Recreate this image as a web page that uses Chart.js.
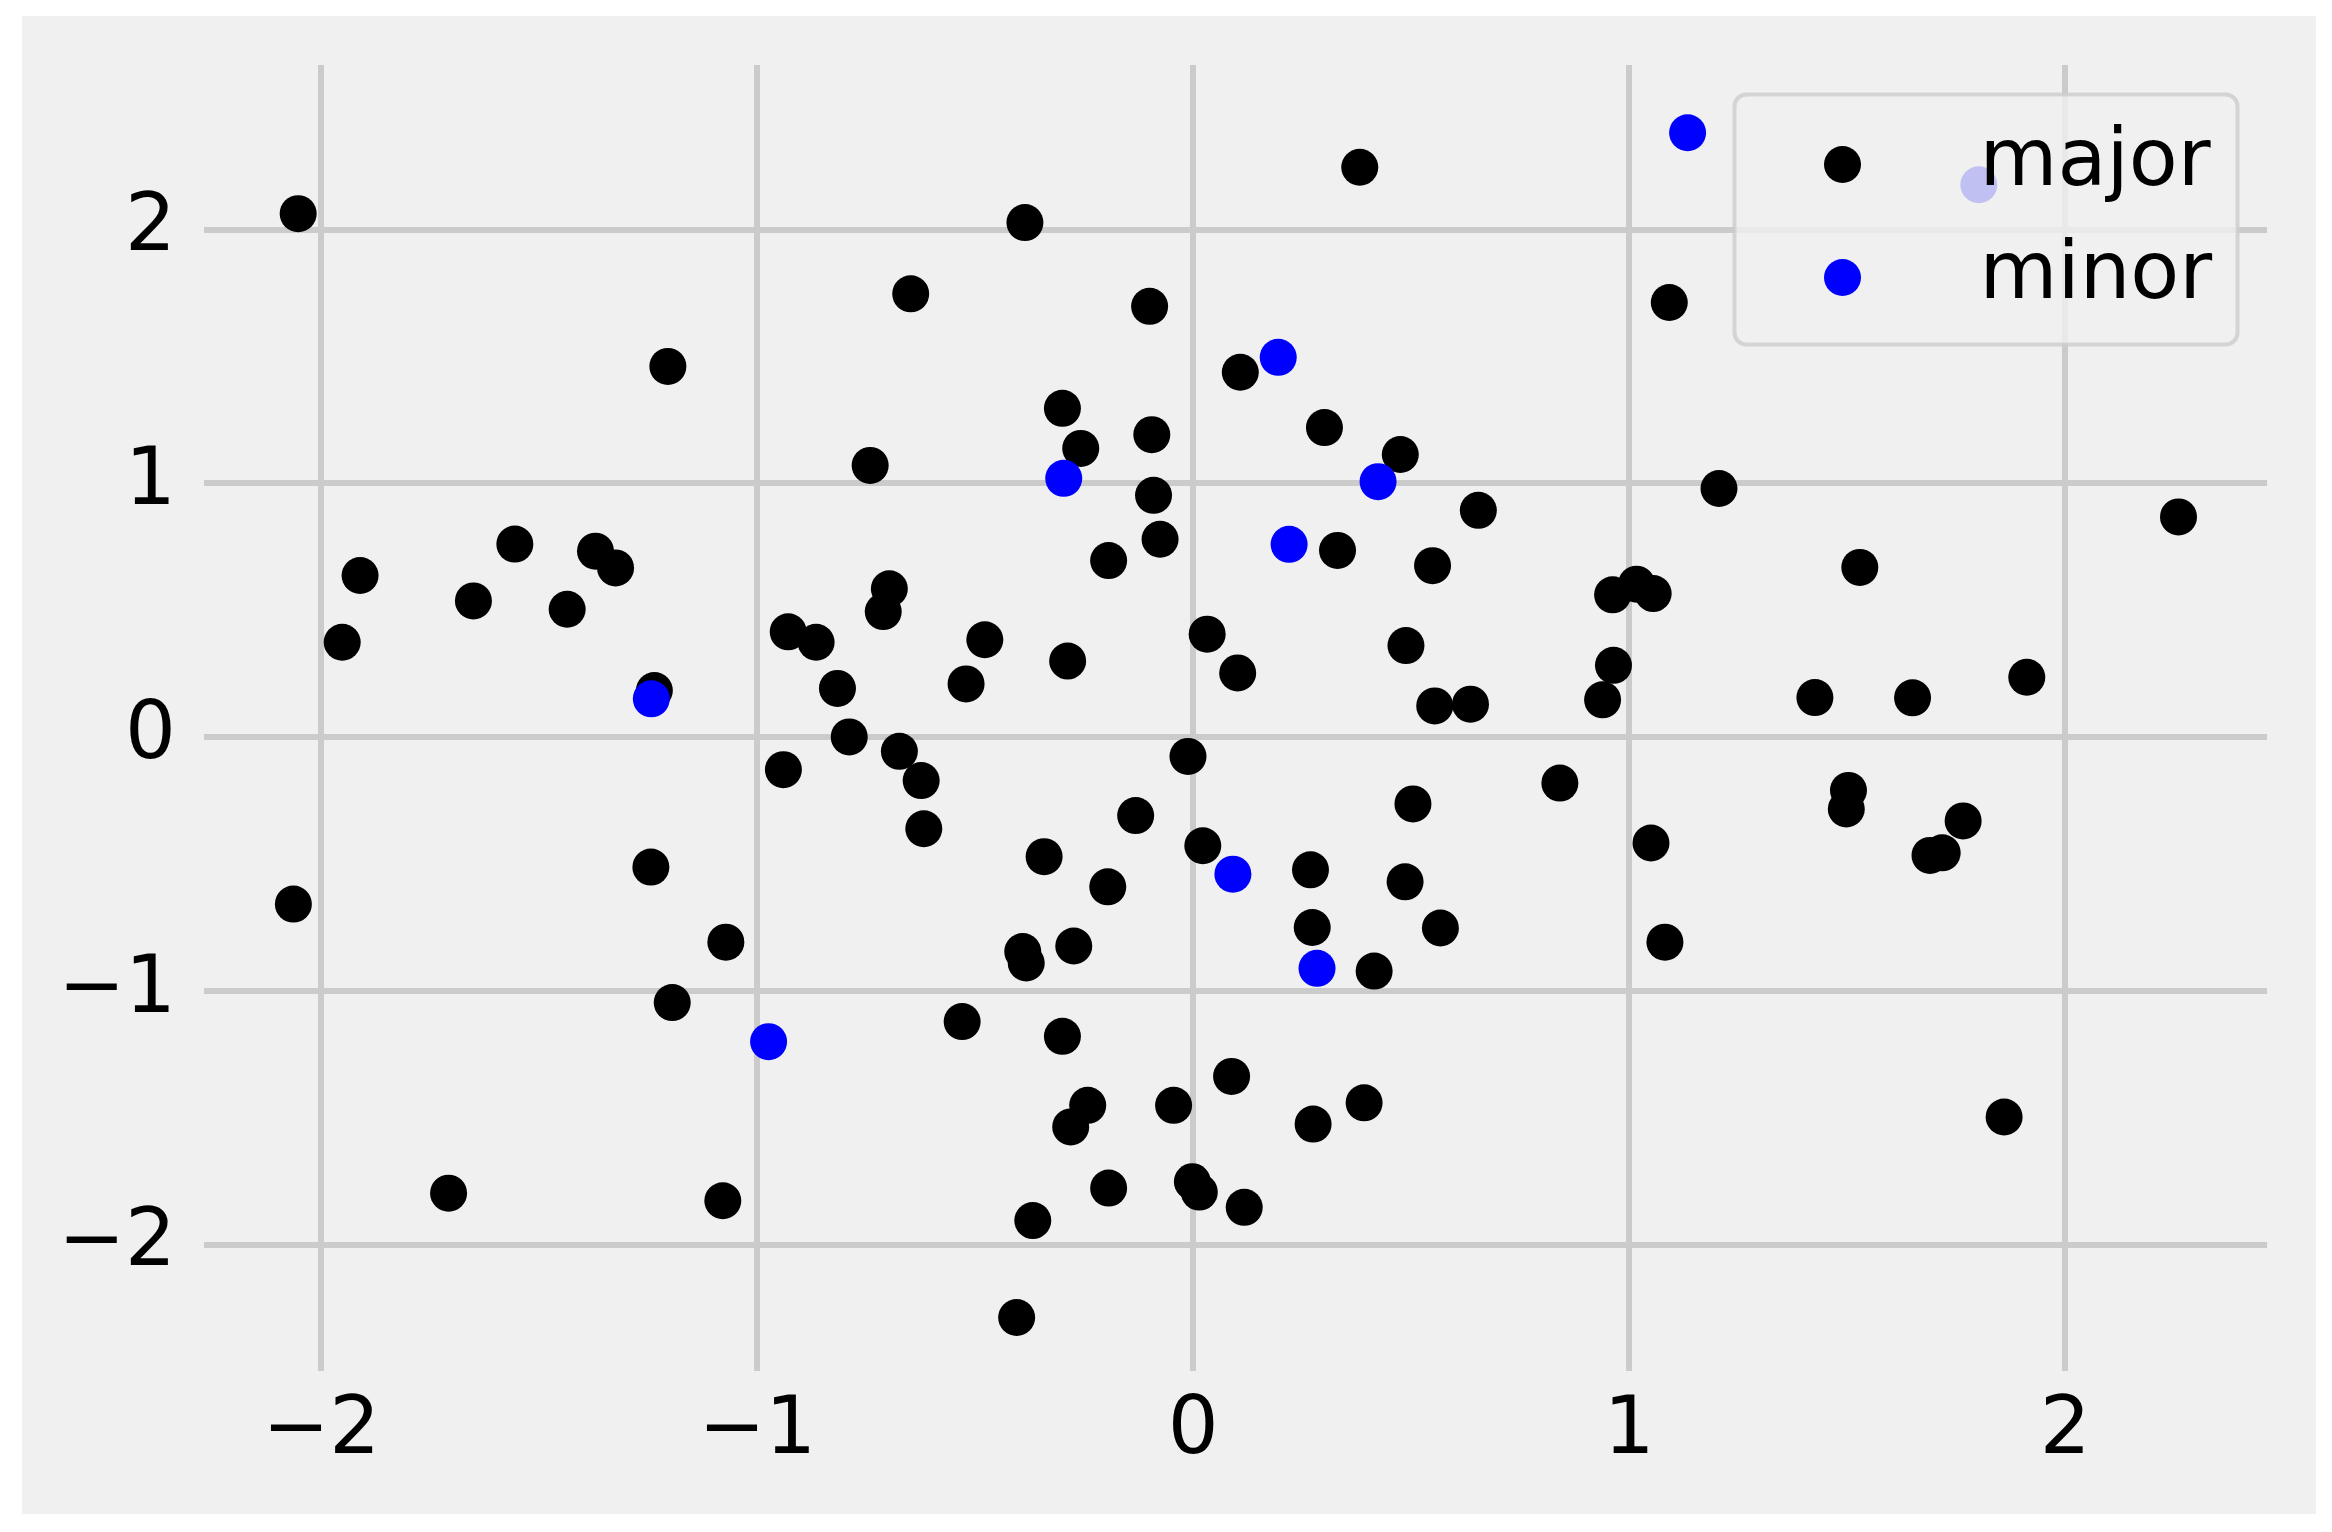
<!DOCTYPE html>
<html>
<head>
<meta charset="utf-8">
<script src="https://cdn.jsdelivr.net/npm/chart.js@4.4.1/dist/chart.umd.min.js"></script>
<style>
    body { margin: 0; background: #ffffff; }
    #wrap { position: absolute; left: 22px; top: 16px; width: 2294px; height: 1498px; background: #f0f0f0; }
</style>
</head>
<body>
<div id="wrap"><canvas id="myChart" width="2294" height="1498"></canvas></div>
<script>
const seriesNames = ['major', 'minor'];
const seriesColors = ['#000000', '#0000ff'];

const majorX = [-2.053, -1.205, -1.911, -1.556, -1.651, -1.371, -1.325, -1.436, -1.952, -1.236,
    -0.929, -0.940, -1.244, -2.064, -1.072, -1.195, -1.708, -1.079,
    0.382, -0.386, -0.648, -0.100, 0.108, -0.300, 0.301, -0.095, -0.258, 0.475,
    -0.741, -0.091, 0.654, -0.076, 0.331, -0.194, 0.549, -0.697, -0.711, -0.865,
    -0.478, 0.032, 0.488, -0.288, -0.816, -0.521, 0.102, 0.554, 0.636, -0.789,
    -0.674, -0.624, -0.012, 0.504, -0.132, -0.618, 0.022, 0.269, 0.486, -0.342,
    -0.196, 0.273, 0.567, -0.391, -0.383, -0.274, 0.415, -0.530, -0.300, 0.088,
    -0.242, -0.281, -0.045, 0.275, 0.392, -0.194, -0.002, 0.014, 0.117, -0.368, -0.405,
    1.092, 1.206, 2.260, 1.529, 0.962, 1.017, 1.055, 0.964, 0.939, 1.426,
    1.650, 1.912, 0.841, 1.503, 1.498, 1.766, 1.690, 1.718, 1.050, 1.082, 1.860];
const majorY = [2.063, 1.461, 0.637, 0.761, 0.537, 0.733, 0.667, 0.504, 0.374, 0.184,
    0.415, -0.128, -0.512, -0.658, -0.808, -1.046, -1.797, -1.827,
    2.246, 2.028, 1.747, 1.698, 1.438, 1.296, 1.220, 1.192, 1.138, 1.114,
    1.071, 0.953, 0.894, 0.780, 0.736, 0.696, 0.676, 0.585, 0.495, 0.374,
    0.384, 0.406, 0.361, 0.300, 0.192, 0.210, 0.253, 0.123, 0.130, 0.001,
    -0.056, -0.171, -0.076, -0.263, -0.309, -0.361, -0.428, -0.523, -0.570, -0.471,
    -0.590, -0.750, -0.752, -0.845, -0.890, -0.823, -0.922, -1.121, -1.179, -1.337,
    -1.451, -1.536, -1.451, -1.525, -1.441, -1.777, -1.752, -1.793, -1.853, -1.905, -2.287,
    1.713, 0.980, 0.868, 0.669, 0.561, 0.603, 0.566, 0.283, 0.147, 0.156,
    0.155, 0.236, -0.181, -0.210, -0.283, -0.330, -0.466, -0.456, -0.417, -0.808, -1.497];

const minorX = [-1.243, -0.974, 0.195, -0.297, 0.424, 0.220, 0.091, 0.284, 1.134, 1.802];
const minorY = [0.151, -1.200, 1.497, 1.020, 1.007, 0.760, -0.540, -0.911, 2.382, 2.177];

const xTicks = [-2, -1, 0, 1, 2];
const yTicks = [-2, -1, 0, 1, 2];
const xRange = [-2.269, 2.463];
const yRange = [-2.496, 2.649];

const toPoints = (xs, ys) => xs.map((x, i) => ({ x: x, y: ys[i] }));
const minusLabel = v => (v < 0 ? '\u2212' + Math.abs(v) : String(v));
const tickFont = { family: 'DejaVu Sans', size: 80 };

// matplotlib style legend box drawn inside the plot, upper right
const boxLegend = {
    id: 'boxLegend',
    afterDatasetsDraw(chart) {
        const ctx = chart.ctx;
        const area = chart.chartArea;
        const w = 503, h = 250;
        const x0 = area.right - 29.5 - w;
        const y0 = area.top + 29.5;
        ctx.save();
        ctx.beginPath();
        ctx.roundRect(x0, y0, w, h, 12);
        ctx.fillStyle = 'rgba(240,240,240,0.8)';
        ctx.fill();
        ctx.lineWidth = 4;
        ctx.strokeStyle = 'rgba(204,204,204,0.8)';
        ctx.stroke();
        ctx.font = '80px "DejaVu Sans"';
        ctx.textBaseline = 'alphabetic';
        chart.data.datasets.forEach((ds, i) => {
            const cy = y0 + 70 + i * 113;
            ctx.beginPath();
            ctx.arc(x0 + 108, cy, 18.5, 0, Math.PI * 2);
            ctx.fillStyle = ds.backgroundColor;
            ctx.fill();
            ctx.fillStyle = '#000000';
            ctx.fillText(ds.label, x0 + 245, cy + 20);
        });
        ctx.restore();
    }
};

const ctx = document.getElementById('myChart');
new Chart(ctx, {
    type: 'scatter',
    data: {
        datasets: [{
            label: seriesNames[0],
            data: toPoints(majorX, majorY),
            backgroundColor: seriesColors[0],
            order: 1
        }, {
            label: seriesNames[1],
            data: toPoints(minorX, minorY),
            backgroundColor: seriesColors[1],
            order: 0
        }]
    },
    options: {
        responsive: false,
        animation: false,
        devicePixelRatio: 1,
        layout: { padding: { left: 0, top: 49, right: 49, bottom: 0 } },
        elements: { point: { radius: 18.5, borderWidth: 0, hoverRadius: 18.5 } },
        plugins: { legend: { display: false }, tooltip: { enabled: false } },
        scales: {
            x: {
                type: 'linear',
                min: xRange[0],
                max: xRange[1],
                afterBuildTicks: s => { s.ticks = xTicks.map(v => ({ value: v })); },
                afterFit: s => { s.height = 143.5; s.paddingLeft = 0; s.paddingRight = 0; },
                grid: { color: '#cbcbcb', lineWidth: 6, drawTicks: false },
                border: { display: false },
                ticks: { color: '#000000', font: tickFont, padding: 14, maxRotation: 0, callback: minusLabel }
            },
            y: {
                type: 'linear',
                min: yRange[0],
                max: yRange[1],
                afterBuildTicks: s => { s.ticks = yTicks.map(v => ({ value: v })); },
                afterFit: s => { s.width = 182; s.paddingTop = 0; s.paddingBottom = 0; },
                grid: { color: '#cbcbcb', lineWidth: 6, drawTicks: false },
                border: { display: false },
                ticks: { color: '#000000', font: tickFont, padding: 28, callback: minusLabel }
            }
        }
    },
    plugins: [boxLegend]
});
</script>
</body>
</html>
